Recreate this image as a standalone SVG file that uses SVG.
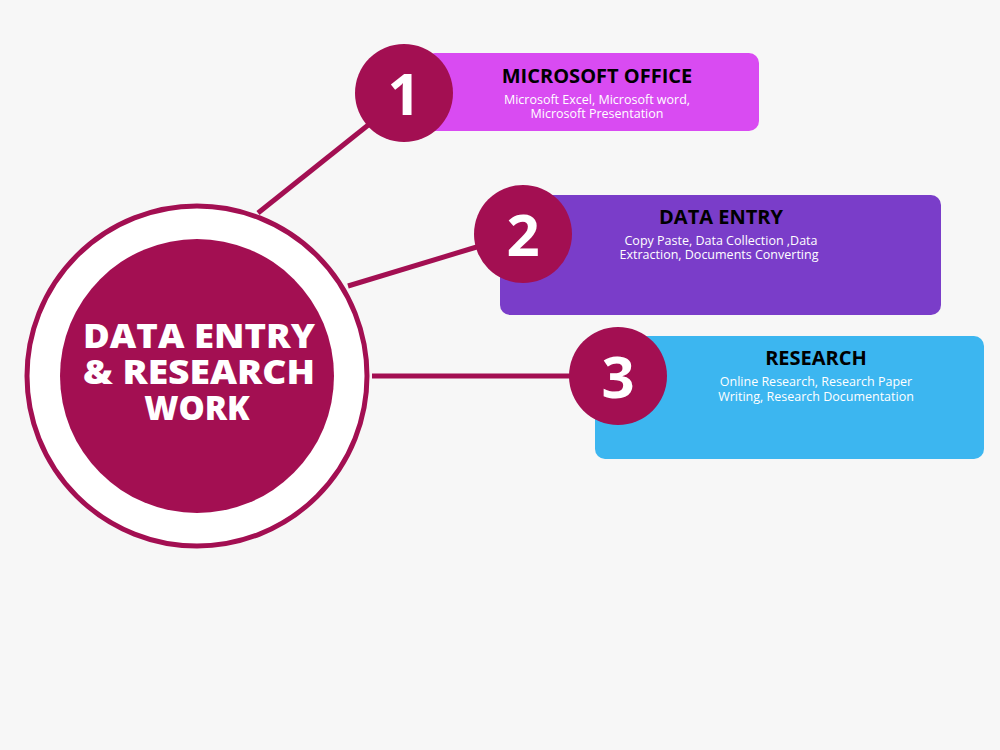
<svg xmlns="http://www.w3.org/2000/svg" width="1000" height="750" viewBox="0 0 1000 750">
<style>
.c{fill:#a30f52}
.l{stroke:#a30f52;stroke-width:5;fill:none}
.n{font-family:"Open Sans","Liberation Sans",sans-serif;font-weight:bold;font-size:58px;fill:#fff;text-anchor:middle}
.t{font-family:"Open Sans","Liberation Sans",sans-serif;font-weight:bold;font-size:20px;fill:#000;text-anchor:middle}
.s{font-family:"Open Sans","Liberation Sans",sans-serif;font-size:12.5px;fill:#fff;text-anchor:middle}
.h{font-family:"Open Sans","Liberation Sans",sans-serif;font-weight:800;font-size:33px;fill:#fff;text-anchor:middle}
</style>
<rect width="1000" height="750" fill="#f7f7f7"/>
<g id="connectors">
<line class="l" x1="258" y1="213" x2="372" y2="122"/>
<line class="l" x1="348" y1="286" x2="480" y2="246"/>
<line class="l" x1="372" y1="376" x2="575" y2="376"/>
</g>
<g id="center">
<circle cx="197" cy="376" r="170" fill="#fff" stroke="#a30f52" stroke-width="5"/>
<circle class="c" cx="197" cy="376" r="137"/>
<text class="h" x="199" y="348" textLength="232" lengthAdjust="spacingAndGlyphs">DATA ENTRY</text>
<text class="h" x="199" y="384" textLength="232" lengthAdjust="spacingAndGlyphs">&amp; RESEARCH</text>
<text class="h" x="197" y="420">WORK</text>
</g>
<g id="node1">
<rect x="425" y="53" width="334" height="78" rx="10" fill="#d94bf2"/>
<circle class="c" cx="404" cy="93" r="49"/>
<text class="n" x="404" y="115">1</text>
<text class="t" x="597" y="83">MICROSOFT OFFICE</text>
<text class="s" x="597" y="104">Microsoft Excel, Microsoft word,</text>
<text class="s" x="597" y="118">Microsoft Presentation</text>
</g>
<g id="node2">
<rect x="500" y="195" width="441" height="120" rx="10" fill="#7a3dc9"/>
<circle class="c" cx="523" cy="234" r="49"/>
<text class="n" x="523" y="256">2</text>
<text class="t" x="721" y="224">DATA ENTRY</text>
<text class="s" x="721" y="245">Copy Paste, Data Collection ,Data</text>
<text class="s" x="719" y="259">Extraction, Documents Converting</text>
</g>
<g id="node3">
<rect x="595" y="336" width="389" height="123" rx="10" fill="#3cb6f0"/>
<circle class="c" cx="618" cy="376" r="49"/>
<text class="n" x="618" y="398">3</text>
<text class="t" x="816" y="365">RESEARCH</text>
<text class="s" x="816" y="386">Online Research, Research Paper</text>
<text class="s" x="816" y="401">Writing, Research Documentation</text>
</g>
</svg>
